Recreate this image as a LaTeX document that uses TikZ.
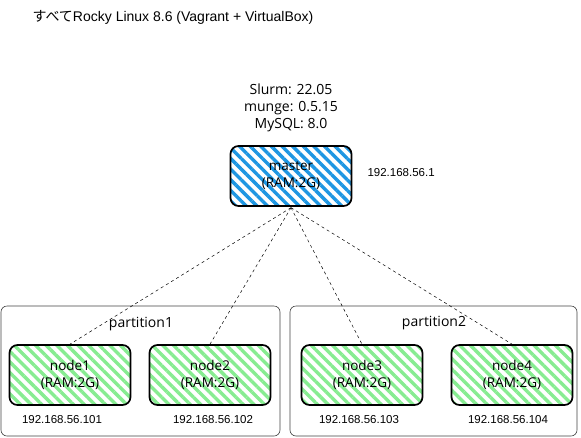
\documentclass[tikz,border=0pt]{standalone}
\usepackage{fontspec}
\setmainfont{Liberation Sans}
\newfontfamily\jpfont{Noto Sans CJK JP}
\newfontfamily\handfont{Open Sans}
\usetikzlibrary{positioning, patterns.meta}

\definecolor{masterblue}{RGB}{30,150,226}
\definecolor{nodegreen}{RGB}{135,236,145}

\begin{document}
\begin{tikzpicture}[
    x=1pt, y=1pt,
    server/.style={draw=black, line width=1.7pt, rounded corners=8pt,
        minimum width=121pt, minimum height=60pt, align=center,
        font=\handfont\fontsize{13.5}{17}\selectfont},
    master/.style={server, pattern={Lines[angle=-45, distance=7.5pt, line width=3.4pt]}, pattern color=masterblue},
    worker/.style={server, pattern={Lines[angle=-45, distance=7.5pt, line width=3.4pt]}, pattern color=nodegreen},
    ip/.style={font=\fontsize{11.5}{13}\selectfont},
    partition/.style={draw=black!75, rounded corners=6pt, line width=0.6pt},
    label/.style={font=\handfont\fontsize{14}{17}\selectfont},
    link/.style={dashed, line width=0.5pt}
]
    \useasboundingbox (0,0) rectangle (581,-437);

    \node[anchor=west, font=\fontsize{14}{16}\selectfont] (title) at (29,-17)
        {{\jpfont すべて}Rocky Linux 8.6 (Vagrant + VirtualBox)};

    % partitions
    \draw[partition] (1,-306) rectangle (280,-436);
    \draw[partition] (290,-306) rectangle (577,-436);
    \node[label] (p1) at (141,-324) {partition1};
    \node[label] (p2) at (434,-323) {partition2};

    % master
    \node[master] (master) at (291,-176) {master\\(RAM:2G)};
    \node[label, align=center, above=9pt of master] (versions)
        {Slurm: 22.05\\munge: 0.5.15\\MySQL: 8.0};
    \node[ip, anchor=west] (masterip) at (364,-173) {192.168.56.1};

    % compute nodes
    \node[worker] (node1) at (70,-375) {node1\\(RAM:2G)};
    \node[worker] (node2) at (210,-375) {node2\\(RAM:2G)};
    \node[worker] (node3) at (362,-375) {node3\\(RAM:2G)};
    \node[worker] (node4) at (512,-375) {node4\\(RAM:2G)};

    \node[ip, below=6pt of node1, xshift=-8pt] (ip1) {192.168.56.101};
    \node[ip, below=6pt of node2, xshift=3pt] (ip2) {192.168.56.102};
    \node[ip, below=6pt of node3, xshift=-3pt] (ip3) {192.168.56.103};
    \node[ip, below=6pt of node4, xshift=-4pt] (ip4) {192.168.56.104};

    \foreach \n in {node1, node2, node3, node4}
        \draw[link] (master.south) -- (\n.north);
\end{tikzpicture}
\end{document}
